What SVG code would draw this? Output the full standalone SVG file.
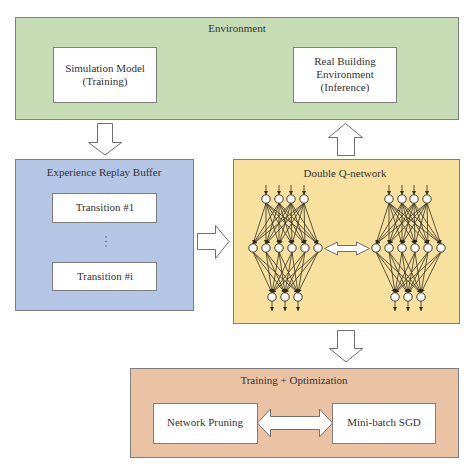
<svg xmlns="http://www.w3.org/2000/svg" xmlns:xlink="http://www.w3.org/1999/xlink" width="474" height="474" viewBox="0 0 474 474">
<style>
text{font-family:"Liberation Serif","DejaVu Serif",serif;font-size:11px;fill:#333;text-anchor:middle}
.box{stroke:#7f7f7f;stroke-width:1}
.white{fill:#fff;stroke:#7f7f7f;stroke-width:1}
.arr{fill:#fff;stroke:#6f6f6f;stroke-width:1}
.nl{stroke:#3d3a2a;stroke-width:0.85;marker-end:url(#ah)}
.nd{fill:#fff;stroke:#3d3a2a;stroke-width:1}
</style>
<defs>
<marker id="ah" markerUnits="userSpaceOnUse" markerWidth="5" markerHeight="5" refX="4" refY="2.5" orient="auto">
<path d="M0,0.5 L4,2.5 L0,4.5 z" fill="#2e2b1f"/>
</marker>
<g id="net">
<g>
<line class="nl" x1="266" y1="185" x2="266" y2="195"/><line class="nl" x1="279" y1="185" x2="279" y2="195"/><line class="nl" x1="291" y1="185" x2="291" y2="195"/><line class="nl" x1="304" y1="185" x2="304" y2="195"/>
<line class="nl" x1="266" y1="203" x2="253" y2="244"/><line class="nl" x1="266" y1="203" x2="266" y2="244"/><line class="nl" x1="266" y1="203" x2="279" y2="244"/><line class="nl" x1="266" y1="203" x2="292" y2="244"/><line class="nl" x1="266" y1="203" x2="305" y2="244"/><line class="nl" x1="266" y1="203" x2="318" y2="244"/>
<line class="nl" x1="279" y1="203" x2="253" y2="244"/><line class="nl" x1="279" y1="203" x2="266" y2="244"/><line class="nl" x1="279" y1="203" x2="279" y2="244"/><line class="nl" x1="279" y1="203" x2="292" y2="244"/><line class="nl" x1="279" y1="203" x2="305" y2="244"/><line class="nl" x1="279" y1="203" x2="318" y2="244"/>
<line class="nl" x1="291" y1="203" x2="253" y2="244"/><line class="nl" x1="291" y1="203" x2="266" y2="244"/><line class="nl" x1="291" y1="203" x2="279" y2="244"/><line class="nl" x1="291" y1="203" x2="292" y2="244"/><line class="nl" x1="291" y1="203" x2="305" y2="244"/><line class="nl" x1="291" y1="203" x2="318" y2="244"/>
<line class="nl" x1="304" y1="203" x2="253" y2="244"/><line class="nl" x1="304" y1="203" x2="266" y2="244"/><line class="nl" x1="304" y1="203" x2="279" y2="244"/><line class="nl" x1="304" y1="203" x2="292" y2="244"/><line class="nl" x1="304" y1="203" x2="305" y2="244"/><line class="nl" x1="304" y1="203" x2="318" y2="244"/>
<line class="nl" x1="253" y1="252" x2="272" y2="293"/><line class="nl" x1="253" y1="252" x2="285" y2="293"/><line class="nl" x1="253" y1="252" x2="298" y2="293"/>
<line class="nl" x1="266" y1="252" x2="272" y2="293"/><line class="nl" x1="266" y1="252" x2="285" y2="293"/><line class="nl" x1="266" y1="252" x2="298" y2="293"/>
<line class="nl" x1="279" y1="252" x2="272" y2="293"/><line class="nl" x1="279" y1="252" x2="285" y2="293"/><line class="nl" x1="279" y1="252" x2="298" y2="293"/>
<line class="nl" x1="292" y1="252" x2="272" y2="293"/><line class="nl" x1="292" y1="252" x2="285" y2="293"/><line class="nl" x1="292" y1="252" x2="298" y2="293"/>
<line class="nl" x1="305" y1="252" x2="272" y2="293"/><line class="nl" x1="305" y1="252" x2="285" y2="293"/><line class="nl" x1="305" y1="252" x2="298" y2="293"/>
<line class="nl" x1="318" y1="252" x2="272" y2="293"/><line class="nl" x1="318" y1="252" x2="285" y2="293"/><line class="nl" x1="318" y1="252" x2="298" y2="293"/>
<line class="nl" x1="272" y1="301" x2="272" y2="311"/><line class="nl" x1="285" y1="301" x2="285" y2="311"/><line class="nl" x1="298" y1="301" x2="298" y2="311"/>
</g>
<circle class="nd" cx="266" cy="199" r="4.2"/><circle class="nd" cx="279" cy="199" r="4.2"/><circle class="nd" cx="291" cy="199" r="4.2"/><circle class="nd" cx="304" cy="199" r="4.2"/>
<circle class="nd" cx="253" cy="248" r="4.2"/><circle class="nd" cx="266" cy="248" r="4.2"/><circle class="nd" cx="279" cy="248" r="4.2"/><circle class="nd" cx="292" cy="248" r="4.2"/><circle class="nd" cx="305" cy="248" r="4.2"/><circle class="nd" cx="318" cy="248" r="4.2"/>
<circle class="nd" cx="272" cy="297" r="4.2"/><circle class="nd" cx="285" cy="297" r="4.2"/><circle class="nd" cx="298" cy="297" r="4.2"/>
</g>
</defs>
<rect width="474" height="474" fill="#fff"/>

<g id="environment">
<rect class="box" x="15.5" y="17.5" width="443" height="102" fill="#c6dcb4"/>
<text x="237" y="32">Environment</text>
</g>
<g id="simulation-model">
<rect class="white" x="53.5" y="47.5" width="103" height="55"/>
<text x="105" y="72">Simulation Model</text>
<text x="105" y="85">(Training)</text>
</g>
<g id="real-building">
<rect class="white" x="293.5" y="47.5" width="103" height="55"/>
<text x="345" y="65">Real Building</text>
<text x="345" y="78">Environment</text>
<text x="345" y="91">(Inference)</text>
</g>

<g id="replay-buffer">
<rect class="box" x="15.5" y="159.5" width="178" height="151" fill="#b4c6e6"/>
<text x="104" y="176">Experience Replay Buffer</text>
</g>
<g id="transition-1">
<rect class="white" x="52.5" y="193.5" width="104" height="29"/>
<text x="105" y="211">Transition #1</text>
</g>
<g id="dots">
<circle cx="106" cy="237" r="0.7" fill="#555"/><circle cx="106" cy="241.5" r="0.7" fill="#555"/><circle cx="106" cy="246" r="0.7" fill="#555"/>
</g>
<g id="transition-i">
<rect class="white" x="52.5" y="262.5" width="104" height="28"/>
<text x="105" y="280">Transition #i</text>
</g>

<g id="double-q-network">
<rect class="box" x="233.5" y="159.5" width="226" height="164" fill="#f8e09f"/>
<text x="345" y="177">Double Q-network</text>
<use xlink:href="#net"/>
<use xlink:href="#net" transform="translate(123,0)"/>
</g>

<g id="training-optimization">
<rect class="box" x="130.5" y="368.5" width="328" height="89" fill="#eac3a4"/>
<text x="294" y="384">Training + Optimization</text>
</g>
<g id="network-pruning">
<rect class="white" x="153.5" y="403.5" width="104" height="40"/>
<text x="205" y="426">Network Pruning</text>
</g>
<g id="mini-batch-sgd">
<rect class="white" x="332.5" y="403.5" width="103" height="40"/>
<text x="384" y="426">Mini-batch SGD</text>
</g>

<g id="connectors">
<path class="arr" d="M97.5,123.5 H112.5 V142.5 H121.5 L105,155 L88.5,142.5 H97.5 Z"/>
<path class="arr" d="M337.5,155.5 H354.5 V137.5 H362.5 L345.5,123.5 L328.5,137.5 H337.5 Z"/>
<path class="arr" d="M197.5,233.5 H215.5 V225.5 L229,241.5 L215.5,258.5 V249.5 H197.5 Z"/>
<path class="arr" d="M324.5,248.5 L337.5,242 V245.5 H356.5 V242 L369.5,248.5 L356.5,255 V251.5 H337.5 V255 Z"/>
<path class="arr" d="M337.5,330.5 H354.5 V348.5 H362.5 L346,362 L329.5,348.5 H337.5 Z"/>
<path class="arr" d="M257.5,423 L270.5,409 V416.5 H319.5 V409 L332.5,423 L319.5,437 V429.5 H270.5 V437 Z"/>
</g>
</svg>
